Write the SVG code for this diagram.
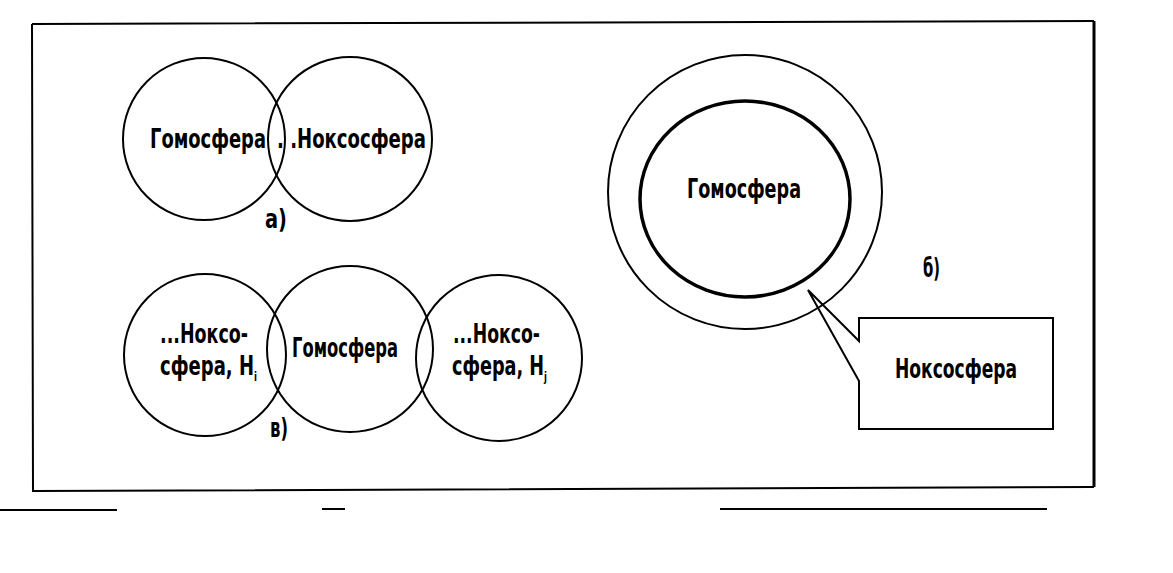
<svg xmlns="http://www.w3.org/2000/svg" width="1173" height="573" viewBox="0 0 1173 573">
<style>
.c{fill:none;stroke:#000;stroke-width:2}
.t{font-family:"DejaVu Sans Condensed","Liberation Sans",sans-serif;font-weight:bold;font-size:27px;fill:#000}
.sub{font-size:13px}
.ln{stroke:#000;stroke-width:2;fill:none}
</style>
<rect width="1173" height="573" fill="#fff"/>
<g id="frame">
<path class="ln" d="M32,24 L1094,21 M32,24 L33,491 L1094,487"/>
<path d="M1094,21 L1094,487" stroke="#000" stroke-width="3"/>
<path class="ln" d="M0,510 L117,510 M322,509 L345,509 M720,509 L1047,509"/>
</g>
<g id="diagram-a">
<g id="a-gomosfera"><circle class="c" cx="204" cy="139" r="81"/>
<text class="t" x="150" y="148" textLength="116" lengthAdjust="spacingAndGlyphs">Гомосфера</text></g>
<g id="a-noksosfera"><circle class="c" cx="350" cy="139" r="82"/>
<text class="t" x="277" y="148" textLength="149" lengthAdjust="spacingAndGlyphs">. .Ноксосфера</text></g>
<text class="t" x="265" y="228" textLength="22" lengthAdjust="spacingAndGlyphs">а)</text>
</g>
<g id="diagram-v">
<g id="v-nokso-i"><circle class="c" cx="205" cy="355" r="81"/>
<text class="t" x="160" y="343" textLength="88" lengthAdjust="spacingAndGlyphs">...Ноксо-</text>
<text class="t" x="160" y="375" textLength="97" lengthAdjust="spacingAndGlyphs">сфера, Н<tspan class="sub" dy="6">i</tspan></text></g>
<g id="v-gomosfera"><circle class="c" cx="350" cy="349" r="83"/>
<text class="t" x="292" y="357" textLength="106" lengthAdjust="spacingAndGlyphs">Гомосфера</text></g>
<g id="v-nokso-j"><circle class="c" cx="499" cy="358" r="83"/>
<text class="t" x="453" y="343" textLength="87" lengthAdjust="spacingAndGlyphs">...Ноксо-</text>
<text class="t" x="452" y="375" textLength="95" lengthAdjust="spacingAndGlyphs">сфера, Н<tspan class="sub" dy="6">j</tspan></text></g>
<text class="t" x="270" y="437" textLength="18" lengthAdjust="spacingAndGlyphs">в)</text>
</g>
<g id="diagram-b">
<g id="b-noksosfera-ring"><circle class="c" cx="745" cy="192" r="137"/></g>
<g id="b-gomosfera"><ellipse cx="745" cy="199" rx="105" ry="98" fill="none" stroke="#000" stroke-width="3.5"/>
<text class="t" x="687" y="198" textLength="114" lengthAdjust="spacingAndGlyphs">Гомосфера</text></g>
<text class="t" x="923" y="277" textLength="17" lengthAdjust="spacingAndGlyphs">б)</text>
<g id="b-callout"><path class="ln" d="M859,341 L859,318 L1053,318 L1053,429 L859,429 L859,381 L808,290 Z"/>
<text class="t" x="895" y="378" textLength="122" lengthAdjust="spacingAndGlyphs">Ноксосфера</text></g>
</g>
<g id="connectors"></g>
</svg>
